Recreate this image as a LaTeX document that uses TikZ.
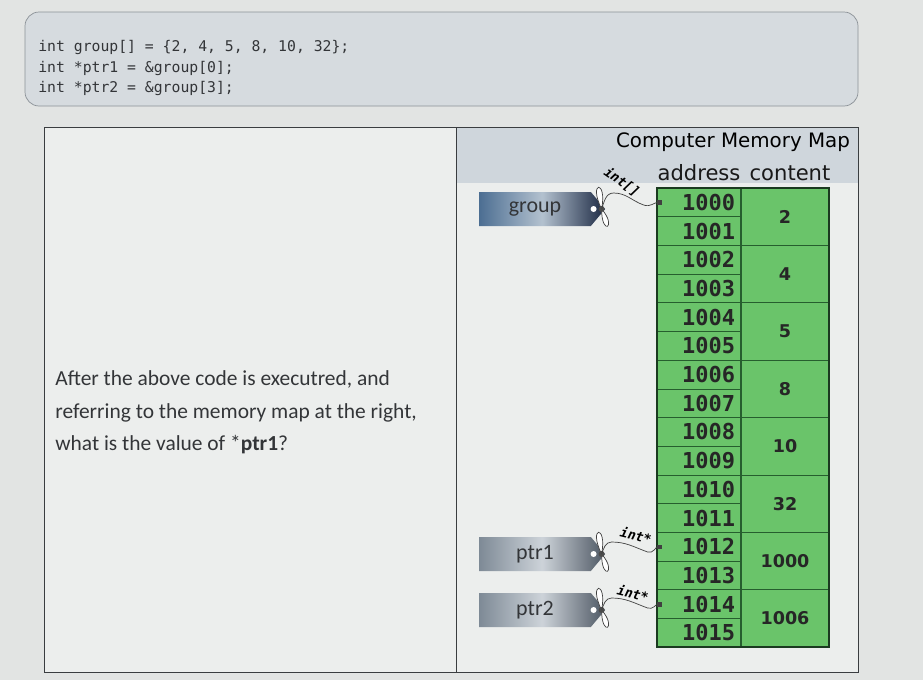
\documentclass[tikz,border=0pt]{standalone}
\usepackage{fontspec}
\setmainfont{Carlito}
\setsansfont{DejaVu Sans}
\setmonofont{DejaVu Sans Mono}
\usetikzlibrary{shapes.symbols,arrows.meta,calc}

\definecolor{bgcol}{HTML}{E2E4E3}
\definecolor{codefill}{HTML}{D6DBDF}
\definecolor{codeline}{HTML}{8C9298}
\definecolor{panelfill}{HTML}{ECEEED}
\definecolor{headfill}{HTML}{CFD6DC}
\definecolor{panelline}{HTML}{3A3D40}
\definecolor{textgrey}{HTML}{333538}
\definecolor{memgreen}{HTML}{6AC46A}
\definecolor{memline}{HTML}{265E2E}
\definecolor{memborder}{HTML}{1B3A20}
\definecolor{blueL}{HTML}{4C6E92}
\definecolor{blueM}{HTML}{B3C1CF}
\definecolor{blueR}{HTML}{1C2943}
\definecolor{greyL}{HTML}{7E8A96}
\definecolor{greyM}{HTML}{CDD3D9}
\definecolor{greyR}{HTML}{4E5864}

\begin{document}
\begin{tikzpicture}[x=0.02cm,y=0.02cm]
	\tikzstyle{addr_i} = [rectangle, draw=memline, fill=memgreen, minimum width=1.66cm, minimum height=0.574cm, text width=1.46cm, inner xsep=0.1cm, inner ysep=0pt, align=right, font=\ttfamily\bfseries\fontsize{12.5}{13}\selectfont, text=black!85]
	\tikzstyle{cont_i} = [rectangle, draw=memline, fill=memgreen, minimum width=1.76cm, minimum height=1.148cm, font=\sffamily\bfseries\fontsize{10}{12}\selectfont, text=black!85]
	\tikzstyle{tag_i} = [signal, signal to=east, signal pointer angle=100, minimum width=2.52cm, minimum height=0.68cm, font=\fontsize{12.5}{14}\selectfont, text=textgrey]
	\tikzstyle{tagblue} = [left color=blueL, right color=blueR, middle color=blueM]
	\tikzstyle{taggrey} = [left color=greyL, right color=greyR, middle color=greyM]
	\tikzstyle{tagstring} = [thin, black!75, -{Square[length=2.5pt,width=2.5pt]}]
	\tikzstyle{bowline} = [thin, black!75, fill=white]
	\tikzstyle{typelabel} = [font=\ttfamily\bfseries\itshape\fontsize{7.5}{9}\selectfont, inner sep=0pt]
	\tikzstyle{head} = [font=\sffamily\fontsize{12}{14}\selectfont, text=black!90, inner sep=1pt]
	\def\rowh{28.7}
	\def\memtop{-188}

	\useasboundingbox (0,0) rectangle (923,-680);
	\fill[bgcol] (0,0) rectangle (923,-680);

	%code box
	\draw[codeline, fill=codefill, rounded corners=8] (25,-12) rectangle (858,-106);
	\foreach \name/\y/\line in {code1/-47/{int group[] = \{2, 4, 5, 8, 10, 32\};}, code2/-68/{int *ptr1 = \&group[0];}, code3/-88/{int *ptr2 = \&group[3];}}
		\node[anchor=west, inner sep=0, font=\ttfamily\fontsize{8.4}{10}\selectfont, text=textgrey] (\name) at (38,\y) {\line};

	%panels
	\fill[panelfill] (44,-127) rectangle (858,-672);
	\fill[headfill] (456,-127) rectangle (858,-183);
	\draw[panelline] (44,-127) rectangle (858,-672);
	\draw[panelline] (456,-127) -- (456,-672);

	\node[anchor=north west, align=left, inner sep=0, text=textgrey, font=\fontsize{12.2}{18.7}\selectfont] (question) at (55,-370)
		{After the above code is executred, and\\referring to the memory map at the right,\\what is the value of *\textbf{ptr1}?};

	%memory map
	\node[font=\sffamily\fontsize{11.3}{13}\selectfont, inner sep=1pt] (maptitle) at (733,-142) {Computer Memory Map};
	\node[head] (h_addr) at (699,-173) {address};
	\node[head] (h_cont) at (790,-173) {content};

	\foreach \i in {0,...,15} {
		\pgfmathtruncatemacro{\addr}{1000+\i}
		\node[addr_i] (a\addr) at (698.5, {\memtop-\rowh*(\i+0.5)}) {\addr};
	}
	\foreach \val [count=\j from 0] in {2,4,5,8,10,32,1000,1006}
		\node[cont_i] (c\j) at (785, {\memtop-2*\rowh*(\j+0.5)}) {\val};
	\node[draw=memborder, thick, minimum width=3.44cm, minimum height=9.184cm] (mem) at (743, {\memtop-8*\rowh}) {};

	%tags
	\node[tag_i, tagblue] (group) at (535,-209) {group};
	\node[tag_i, taggrey] (ptr1) at (535,-554) {ptr1};
	\node[tag_i, taggrey] (ptr2) at (535,-610) {ptr2};

	\foreach \name in {group, ptr1, ptr2} {
		\coordinate (\name_knot) at ($(\name.east)+(-4,0)$);
		\draw[bowline] (\name_knot) .. controls +(-14,28) and +(6,30) .. (\name_knot);
		\draw[bowline] (\name_knot) .. controls +(0,-28) and +(16,-18) .. (\name_knot);
		\fill[white] ($(\name.east)+(-12,0)$) circle (3);
		\fill[black!70] (\name_knot) circle (3);
	}

	\foreach \name/\to in {group/a1000, ptr1/a1012, ptr2/a1014}
		\coordinate (pin_\name) at ($(\to.west)+(5,0)$);

	\draw[tagstring] (group_knot) to[out=70,in=180] ++(12,16) to[out=0,in=160] ++(30,-12) to[out=-20,in=180] (pin_group);
	\draw[tagstring] (ptr1_knot) to[out=70,in=180] ++(10,12) to[out=0,in=160] ++(36,-10) to[out=-20,in=180] (pin_ptr1);
	\draw[tagstring] (ptr2_knot) to[out=70,in=180] ++(10,12) to[out=0,in=160] ++(36,-10) to[out=-20,in=180] (pin_ptr2);

	\node[typelabel, rotate=-35] (t_group) at (622,-182) {int[]};
	\node[typelabel, rotate=-14] (t_ptr1) at (636,-535) {int*};
	\node[typelabel, rotate=-14] (t_ptr2) at (633,-593) {int*};

\end{tikzpicture}
\end{document}
